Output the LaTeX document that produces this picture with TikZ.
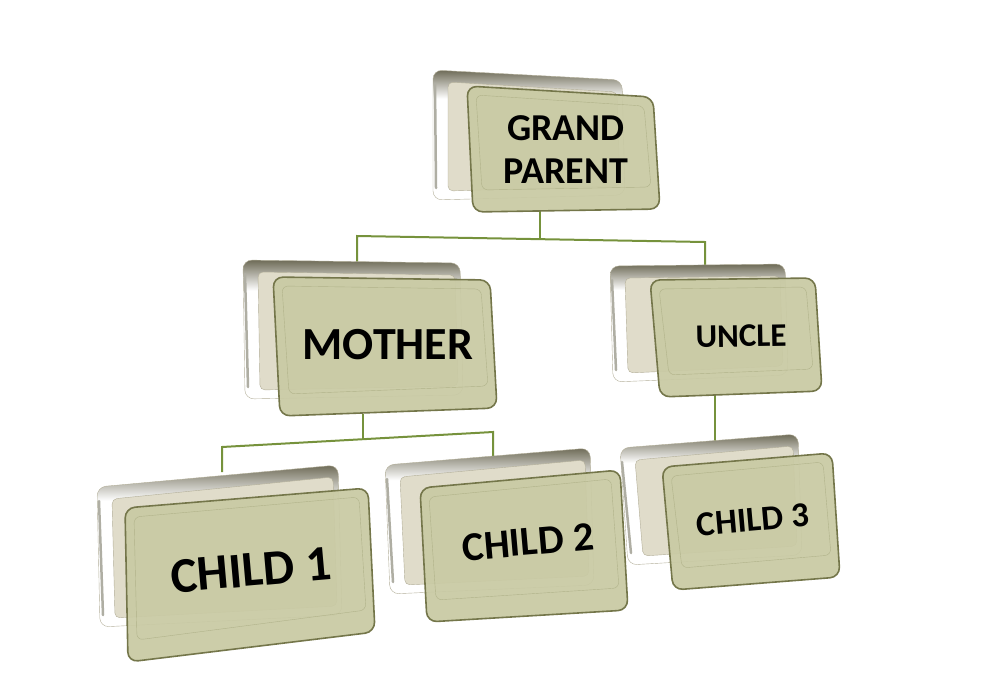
\documentclass[tikz,border=0pt]{standalone}
\usepackage{fontspec}
\setmainfont{Carlito}
\usetikzlibrary{calc}

\definecolor{linkgreen}{HTML}{76923C}
\definecolor{rimdark}{HTML}{6E6B57}
\definecolor{backface}{HTML}{E0DCCA}
\definecolor{backline}{HTML}{B3AF99}
\definecolor{frontface}{HTML}{C9CAA4}
\definecolor{frontline}{HTML}{74764A}
\definecolor{frontbevel}{HTML}{B0B289}

\pgfdeclareverticalshading{backrim}{100bp}{color(0bp)=(white); color(64bp)=(white); color(69bp)=(rimdark!45); color(75bp)=(rimdark); color(100bp)=(rimdark)}

% back card corners #1-#4, front card corners #5-#8 (TL, TR, BR, BL)
\newcommand{\famcard}[8]{%
  \shadedraw[shading=backrim, draw=backline, rounded corners=9pt]
    (#1) -- (#2) -- (#3) -- (#4) -- cycle;
  \draw[rimdark!55, line width=2.5pt, line cap=round]
    ($(#1)+(2,14)$) -- ($(#4)+(3,-12)$);
  \filldraw[fill=backface, draw=backline, rounded corners=5pt]
    ($(#1)+(15,12)$) -- ($(#2)+(-5,12)$) -- ($(#3)+(-5,-9)$) -- ($(#4)+(15,-9)$) -- cycle;
  \filldraw[fill=frontface, draw=frontline, line width=1.6pt, rounded corners=10pt, fill opacity=.94]
    (#5) -- (#6) -- (#7) -- (#8) -- cycle;
  \draw[frontbevel, rounded corners=6pt]
    ($(#5)+(9,9)$) -- ($(#6)+(-9,9)$) -- ($(#7)+(-9,-22)$) -- ($(#8)+(9,-22)$) -- cycle;
}

\begin{document}
\begin{tikzpicture}[x=1pt,y=-1pt,
    link/.style={linkgreen, line width=2pt},
    lbl/.style={inner sep=0pt, text=black, font=\bfseries}]
  \useasboundingbox (0,0) rectangle (1000,672);

  % connector points
  \coordinate (gp-s) at (540,211);
  \coordinate (gp-j) at (540,239);
  \coordinate (bus1-w) at (357,236);
  \coordinate (bus1-e) at (705,242);
  \coordinate (mo-n) at (357,264);
  \coordinate (un-n) at (705,268);
  \coordinate (mo-s) at (363,414);
  \coordinate (mo-j) at (363,440);
  \coordinate (bus2-w) at (222,447);
  \coordinate (bus2-e) at (493,432);
  \coordinate (c1-n) at (222,472);
  \coordinate (c2-n) at (493,458);
  \coordinate (un-s) at (715,395);
  \coordinate (c3-n) at (715,444);

  % connectors
  \draw[link] (gp-s) -- (gp-j);
  \draw[link] (mo-n) -- (bus1-w) -- (bus1-e) -- (un-n);
  \draw[link] (mo-s) -- (mo-j);
  \draw[link] (c1-n) -- (bus2-w) -- (bus2-e) -- (c2-n);
  \draw[link] (un-s) -- (c3-n);

  % cards
  \famcard{433,70}{622,80}{625,195}{433,200}{467,86}{653,97}{660,209}{473,212}
  \famcard{243,260}{460,263}{463,395}{245,399}{273,277}{490,280}{497,408}{280,416}
  \famcard{610,266}{785,264}{788,375}{613,382}{650,280}{815,278}{822,391}{660,397}
  \famcard{97,487}{338,465}{342,615}{100,627}{125,508}{368,488}{375,632}{128,662}
  \famcard{385,465}{590,448}{594,585}{390,594}{420,488}{620,470}{628,610}{427,622}
  \famcard{620,448}{798,434}{802,555}{628,565}{662,467}{832,453}{840,577}{673,590}

  % labels
  \node[lbl, align=center, font=\bfseries\fontsize{38}{43}\selectfont] (gp) at (566,150) {GRAND\\PARENT};
  \node[lbl, font=\bfseries\fontsize{46}{50}\selectfont] (mo) at (388,345) {MOTHER};
  \node[lbl, rotate=1, font=\bfseries\fontsize{33}{36}\selectfont] (un) at (741,336) {UNCLE};
  \node[lbl, rotate=5, font=\bfseries\fontsize{50}{54}\selectfont] (c1) at (251,570) {CHILD 1};
  \node[lbl, rotate=5, font=\bfseries\fontsize{41}{44}\selectfont] (c2) at (528,542) {CHILD 2};
  \node[lbl, rotate=5, font=\bfseries\fontsize{35}{38}\selectfont] (c3) at (753,520) {CHILD 3};
\end{tikzpicture}
\end{document}
